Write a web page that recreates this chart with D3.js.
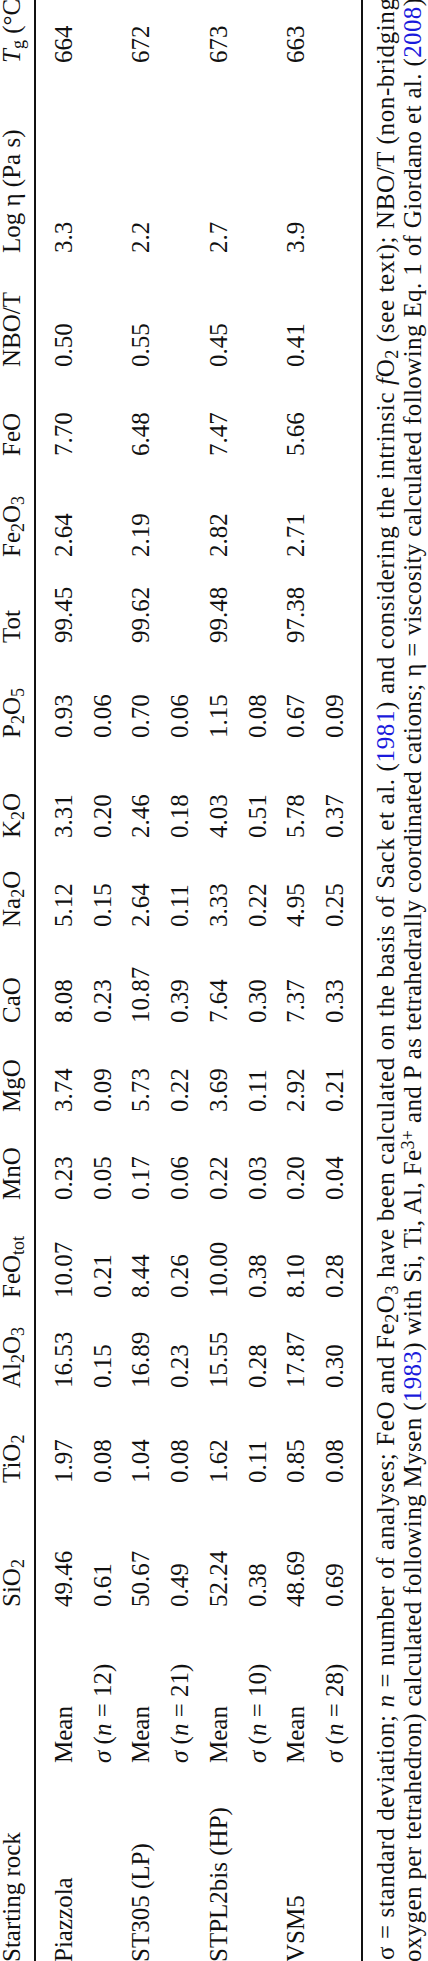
<!DOCTYPE html>
<html><head><meta charset="utf-8">
<script src="https://cdn.jsdelivr.net/npm/d3@7"></script>
<style>body{margin:0;background:#fff}svg{display:block}text{font-family:"Liberation Serif","DejaVu Serif",serif;fill:#111}</style>
</head><body>
<script>
const rocks = ["Piazzola","ST305 (LP)","STPL2bis (HP)","VSM5"];
const nAnalyses = [12,21,10,28];
const oxides = ["SiO2","TiO2","Al2O3","FeOtot","MnO","MgO","CaO","Na2O","K2O","P2O5"];
const derived = ["Tot","Fe2O3","FeO","NBO/T","LogEta","Tg"];
const oxideMeans = [
 [49.46,1.97,16.53,10.07,0.23,3.74,8.08,5.12,3.31,0.93],
 [50.67,1.04,16.89,8.44,0.17,5.73,10.87,2.64,2.46,0.70],
 [52.24,1.62,15.55,10.00,0.22,3.69,7.64,3.33,4.03,1.15],
 [48.69,0.85,17.87,8.10,0.20,2.92,7.37,4.95,5.78,0.67]];
const oxideSigmas = [
 [0.61,0.08,0.15,0.21,0.05,0.09,0.23,0.15,0.20,0.06],
 [0.49,0.08,0.23,0.26,0.06,0.22,0.39,0.11,0.18,0.06],
 [0.38,0.11,0.28,0.38,0.03,0.11,0.30,0.22,0.51,0.08],
 [0.69,0.08,0.30,0.28,0.04,0.21,0.33,0.25,0.37,0.09]];
const totals = ["99.45","99.62","99.48","97.38"];
const fe2o3 = ["2.64","2.19","2.82","2.71"];
const feo = ["7.70","6.48","7.47","5.66"];
const nbot = ["0.50","0.55","0.45","0.41"];
const logEta = ["3.3","2.2","2.7","3.9"];
const tg = ["664","672","673","663"];

const W=428,H=1961,FS=25;
const svg=d3.select("body").append("svg").attr("width",W).attr("height",H);
const g=svg.append("g").attr("transform",`translate(0,${H}) rotate(-90)`);

const cols=["rock","stat",...oxides,...derived];
const xCol=d3.scaleOrdinal().domain(cols).range([-1,198,354,478,573,663,761,849,938,1034,1123,1223,1318,1404,1505,1594,1708,1898]);
const rowKeys=d3.range(8);
const yRow=d3.scalePoint().domain(rowKeys).range([72,343]);

// rules
g.append("line").attr("x1",-5).attr("x2",H+5).attr("y1",35).attr("y2",35).attr("stroke","#111").attr("stroke-width",2);
g.append("line").attr("x1",-5).attr("x2",H+5).attr("y1",362).attr("y2",362).attr("stroke","#111").attr("stroke-width",2);

function rich(sel,parts){ // parts: [text, style]
  parts.forEach(([t,s])=>{
    const ts=sel.append("tspan").text(t);
    if(s==="sub") ts.attr("baseline-shift","-22%").attr("font-size",FS*0.72);
    else if(s==="sup") ts.attr("baseline-shift","40%").attr("font-size",FS*0.72);
    else if(s==="i") ts.attr("font-style","italic");
    else if(s==="link") ts.attr("fill","#1a1adc");
  });
}
const headers={rock:[["Starting rock"]],stat:[[""]],SiO2:[["SiO"],["2","sub"]],TiO2:[["TiO"],["2","sub"]],
 Al2O3:[["Al"],["2","sub"],["O"],["3","sub"]],FeOtot:[["FeO"],["tot","sub"]],MnO:[["MnO"]],MgO:[["MgO"]],CaO:[["CaO"]],
 Na2O:[["Na"],["2","sub"],["O"]],K2O:[["K"],["2","sub"],["O"]],P2O5:[["P"],["2","sub"],["O"],["5","sub"]],Tot:[["Tot"]],
 Fe2O3:[["Fe"],["2","sub"],["O"],["3","sub"]],FeO:[["FeO"]],"NBO/T":[["NBO/T"]],LogEta:[["Log η (Pa s)"]],Tg:[["T","i"],["g","sub"],[" (°C)"]]};
cols.forEach(c=>{const t=g.append("text").attr("x",xCol(c)).attr("y",20).attr("font-size",FS);rich(t,headers[c]);});

rocks.forEach((r,i)=>{
  const ym=yRow(2*i), ys=yRow(2*i+1);
  g.append("text").attr("x",xCol("rock")).attr("y",ym).attr("font-size",FS).text(r);
  g.append("text").attr("x",xCol("stat")).attr("y",ym).attr("font-size",FS).text("Mean");
  const s=g.append("text").attr("x",xCol("stat")).attr("y",ys).attr("font-size",FS);
  rich(s,[["σ","i"],[" ("],["n","i"],[` = ${nAnalyses[i]})`]]);
  oxides.forEach((o,j)=>{
    g.append("text").attr("x",xCol(o)).attr("y",ym).attr("font-size",FS).text(oxideMeans[i][j].toFixed(2));
    g.append("text").attr("x",xCol(o)).attr("y",ys).attr("font-size",FS).text(oxideSigmas[i][j].toFixed(2));
  });
  [["Tot",totals],["Fe2O3",fe2o3],["FeO",feo],["NBO/T",nbot],["LogEta",logEta],["Tg",tg]].forEach(([k,arr])=>{
    g.append("text").attr("x",xCol(k)).attr("y",ym).attr("font-size",FS).text(arr[i]);
  });
});

const foot1=[["σ = standard deviation; "],["n","i"],[" = number of analyses; FeO and Fe"],["2","sub"],["O"],["3","sub"],[" have been calculated on the basis of Sack et al. ("],["1981","link"],[") and considering the intrinsic "],["f","i"],["O"],["2","sub"],[" (see text); NBO/T (non-bridging"]];
const foot2=[["oxygen per tetrahedron) calculated following Mysen ("],["1983","link"],[") with Si, Ti, Al, Fe"],["3+","sup"],[" and P as tetrahedrally coordinated cations; η = viscosity calculated following Eq. 1 of Giordano et al. ("],["2008","link"],[")"]];
[[foot1,394,1],[foot2,421,-1]].forEach(([p,y,x0])=>{
  const t=g.append("text").attr("x",x0).attr("y",y).attr("font-size",FS);
  rich(t,p);
  const L=t.node().getComputedTextLength(), target=H+2-x0;
  if(L>0) t.attr("textLength",target).attr("lengthAdjust","spacing");
});
</script>
</body></html>
